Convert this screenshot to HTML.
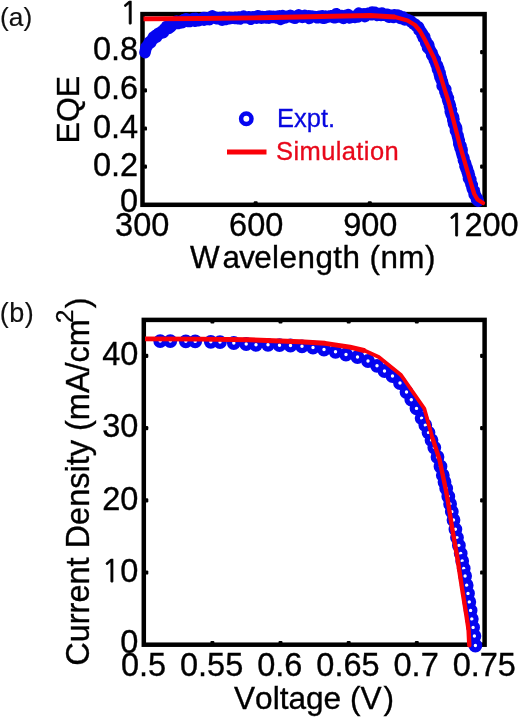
<!DOCTYPE html><html><head><meta charset="utf-8"><title>EQE and J-V</title><style>html,body{margin:0;padding:0;background:#fff}svg{display:block}text{font-family:"Liberation Sans",sans-serif;font-kerning:none;stroke:#000;stroke-width:.35px}.n{font-family:"NanumGothic","Liberation Sans",sans-serif;font-size:30.4px;stroke-width:.75px}.l{font-family:"Liberation Sans",sans-serif;font-size:32.5px;stroke-width:.35px}</style></head><body>
<svg width="520" height="718" viewBox="0 0 520 718">
<rect width="520" height="718" fill="#fff"/>
<rect x="142.5" y="14.1" width="342.1" height="190.70000000000002" fill="none" stroke="#000" stroke-width="4.5"/>
<rect x="253.7" y="201.20000000000002" width="4" height="3" rx="1" fill="#000"/>
<rect x="367.8" y="201.20000000000002" width="4" height="3" rx="1" fill="#000"/>
<rect x="144.0" y="164.6" width="3" height="4.2" rx="1.2" fill="#000"/>
<rect x="480.1" y="164.6" width="3" height="4.2" rx="1.2" fill="#000"/>
<rect x="144.0" y="126.4" width="3" height="4.2" rx="1.2" fill="#000"/>
<rect x="480.1" y="126.4" width="3" height="4.2" rx="1.2" fill="#000"/>
<rect x="144.0" y="88.3" width="3" height="4.2" rx="1.2" fill="#000"/>
<rect x="480.1" y="88.3" width="3" height="4.2" rx="1.2" fill="#000"/>
<rect x="144.0" y="50.1" width="3" height="4.2" rx="1.2" fill="#000"/>
<rect x="480.1" y="50.1" width="3" height="4.2" rx="1.2" fill="#000"/>
<polyline points="145.0,52.6 145.4,50.6 145.7,49.4 146.1,46.9 146.5,47.5 146.8,46.6 147.3,46.0 147.8,44.8 148.3,44.6 148.8,43.4 149.3,41.9 149.8,43.2 150.3,42.4 150.9,42.5 151.5,40.4 152.2,39.3 152.8,38.6 153.4,37.0 154.1,38.6 154.7,36.2 155.4,35.5 156.1,35.9 156.8,36.8 157.5,35.1 158.2,33.4 159.0,33.2 159.7,33.9 160.5,32.7 161.2,31.6 162.0,31.6 162.7,32.0 163.4,32.6 164.2,29.2 164.9,29.2 165.7,28.6 166.4,26.6 167.2,27.5 168.0,27.0 168.8,28.5 169.6,26.9 170.3,25.1 171.1,26.7 171.9,25.3 172.7,23.6 173.4,24.2 174.2,23.7 175.0,23.0 175.8,23.5 176.7,21.1 177.5,22.6 178.3,23.4 179.2,23.0 180.0,22.9 180.9,22.6 181.7,22.7 182.6,20.2 183.5,21.8 184.4,19.2 185.3,20.1 186.2,18.8 187.0,21.3 187.9,21.4 188.8,19.8 189.7,21.5 190.6,19.2 191.5,19.9 192.4,19.8 193.3,18.6 194.2,19.9 195.1,21.2 196.0,18.4 196.9,20.1 197.8,19.1 198.7,20.7 199.6,19.5 200.5,19.6 201.4,19.5 202.3,19.1 203.2,17.6 204.1,20.1 205.0,17.6 205.9,19.0 206.8,19.3 207.7,17.9 208.6,18.8 209.5,19.7 210.4,18.6 211.3,17.7 212.2,15.9 213.1,17.6 214.0,17.9 214.9,17.9 215.8,17.5 216.7,18.7 217.6,17.8 218.5,18.2 219.4,18.9 220.3,17.5 221.2,18.0 222.1,20.2 223.0,19.0 223.9,17.0 224.8,18.1 225.7,18.6 226.6,19.2 227.5,18.2 228.4,17.6 229.3,17.4 230.2,18.6 231.1,18.3 232.0,17.5 232.9,17.8 233.8,17.5 234.7,18.5 235.6,17.2 236.5,18.3 237.4,18.6 238.2,18.2 239.1,17.0 240.0,18.9 240.9,17.1 241.8,18.1 242.7,17.0 243.6,16.1 244.5,17.8 245.4,17.8 246.3,17.5 247.2,17.8 248.1,16.9 249.0,16.8 249.9,17.3 250.8,19.2 251.7,18.2 252.6,16.9 253.5,17.9 254.4,16.9 255.3,16.9 256.2,18.1 257.1,16.8 258.0,15.7 258.9,16.4 259.8,17.3 260.7,17.3 261.6,18.3 262.5,16.5 263.4,17.8 264.3,17.5 265.2,17.0 266.1,17.9 267.0,17.6 267.9,16.3 268.8,18.1 269.7,16.0 270.6,17.1 271.5,17.1 272.4,17.4 273.3,16.4 274.2,17.0 275.1,16.9 276.0,17.9 276.9,16.3 277.8,17.1 278.7,16.7 279.6,15.8 280.5,19.4 281.4,16.9 282.3,15.6 283.2,18.2 284.1,16.0 285.0,17.2 285.9,17.7 286.8,16.3 287.7,16.5 288.6,16.4 289.5,16.7 290.4,15.4 291.3,15.7 292.2,16.7 293.1,17.7 294.0,17.4 294.9,18.3 295.8,17.4 296.7,16.3 297.6,16.7 298.5,14.9 299.4,15.9 300.3,15.8 301.2,17.0 302.1,17.3 303.0,16.2 303.9,16.2 304.8,15.3 305.7,16.6 306.6,16.9 307.5,17.0 308.4,15.9 309.3,18.4 310.2,17.7 311.1,16.5 312.0,16.1 312.9,16.3 313.8,16.7 314.7,16.5 315.6,17.0 316.5,17.2 317.4,17.8 318.3,17.6 319.2,16.4 320.1,16.8 321.0,16.1 321.9,15.9 322.8,18.1 323.7,16.0 324.6,18.2 325.5,16.0 326.4,16.6 327.3,17.3 328.2,16.3 329.1,16.6 330.0,16.0 330.9,15.8 331.8,16.0 332.7,15.6 333.6,17.6 334.5,16.0 335.4,17.7 336.3,13.7 337.2,16.1 338.1,16.5 339.0,15.7 339.9,17.0 340.8,16.5 341.7,15.7 342.6,16.3 343.5,18.4 344.4,16.1 345.3,16.1 346.2,15.4 347.1,15.9 348.0,14.6 348.9,15.6 349.8,17.9 350.7,16.7 351.6,16.3 352.5,16.7 353.4,17.3 354.3,16.2 355.2,17.4 356.1,16.5 357.0,15.6 357.9,16.9 358.8,13.1 359.7,14.7 360.6,15.4 361.5,14.2 362.4,14.8 363.3,14.1 364.1,13.8 365.0,16.6 365.9,14.5 366.7,13.7 367.6,14.7 368.5,13.2 369.4,14.2 370.3,13.6 371.2,14.8 372.1,12.0 373.0,13.9 373.9,13.3 374.8,12.3 375.6,14.5 376.5,13.0 377.4,15.4 378.3,14.7 379.1,15.0 380.0,14.7 380.9,15.5 381.8,13.0 382.7,14.8 383.6,14.3 384.5,15.1 385.4,14.9 386.3,15.5 387.2,14.3 388.1,16.7 389.0,17.2 389.9,15.0 390.8,15.3 391.7,15.8 392.6,16.8 393.5,17.5 394.3,14.9 395.2,15.6 396.1,15.3 397.0,15.5 397.9,15.1 398.8,17.1 399.7,15.9 400.5,18.5 401.4,18.3 402.2,16.8 403.1,17.1 403.9,17.8 404.8,19.9 405.2,18.9 405.7,19.2 407.3,19.5 408.3,19.9 408.6,20.3 410.6,20.8 410.6,21.3 411.5,21.7 411.5,22.2 412.7,22.7 413.5,23.1 413.1,23.6 415.2,24.1 414.7,24.8 416.2,25.5 416.0,26.1 418.5,26.8 418.1,27.5 419.0,28.2 419.6,28.9 419.0,29.6 419.0,30.3 420.4,31.1 421.5,31.9 421.5,32.7 422.4,33.5 422.9,34.3 422.0,35.1 423.4,35.8 424.7,36.6 423.8,37.4 423.5,38.2 424.9,39.0 425.1,39.8 426.0,40.6 425.7,41.4 426.6,42.2 425.7,43.1 427.8,43.9 428.6,44.7 428.8,45.5 427.7,46.3 429.0,47.1 427.6,47.9 429.8,48.7 430.0,49.6 429.9,50.4 431.0,51.2 431.3,52.0 432.1,52.8 432.0,53.6 432.5,54.4 431.7,55.2 432.5,56.1 433.2,56.9 434.0,57.7 434.2,58.5 435.3,59.4 434.3,60.2 435.0,61.1 435.6,61.9 435.6,62.8 436.3,63.6 436.1,64.4 437.5,65.3 436.8,66.1 437.9,67.0 437.6,67.8 438.8,68.7 437.5,69.5 438.9,70.3 438.7,71.2 439.3,72.0 440.2,72.9 439.2,73.7 439.4,74.6 439.9,75.4 440.8,76.3 439.9,77.1 441.3,78.0 440.8,78.9 441.1,79.7 441.8,80.6 442.4,81.5 442.2,82.3 442.5,83.2 443.0,84.0 443.1,84.9 442.1,85.8 443.6,86.6 444.1,87.5 444.9,88.3 445.7,89.2 445.2,90.1 445.2,90.9 444.9,91.8 445.7,92.6 446.4,93.5 446.9,94.3 446.0,95.2 446.9,96.1 447.5,96.9 448.3,97.8 447.7,98.6 447.6,99.5 447.8,100.3 448.2,101.2 448.3,102.1 449.4,102.9 449.8,103.8 449.8,104.7 450.3,105.5 449.6,106.4 450.3,107.3 450.1,108.1 450.6,109.0 451.4,109.9 451.0,110.8 450.2,111.6 451.3,112.5 451.3,113.4 451.1,114.2 451.7,115.1 452.9,116.0 453.5,116.9 452.5,117.7 453.6,118.6 453.9,119.5 452.8,120.3 453.7,121.2 453.9,122.1 454.2,123.0 453.5,123.8 454.4,124.7 455.4,125.6 455.7,126.4 456.3,127.3 455.3,128.2 456.7,129.1 456.3,129.9 455.4,130.8 456.8,131.7 456.4,132.5 457.1,133.4 457.0,134.3 458.0,135.2 457.7,136.0 457.6,136.9 458.5,137.8 458.3,138.6 458.2,139.5 459.3,140.4 458.7,141.3 458.8,142.1 459.0,143.0 458.8,143.9 459.5,144.7 461.0,145.6 459.7,146.5 460.5,147.4 460.1,148.2 460.7,149.1 462.1,149.9 462.0,150.8 461.4,151.7 462.0,152.5 461.8,153.4 462.1,154.3 462.3,155.1 462.5,156.0 463.4,156.9 463.8,157.7 464.0,158.6 463.9,159.4 463.5,160.3 464.5,161.2 464.3,162.0 465.5,162.9 465.6,163.8 465.9,164.6 465.6,165.5 465.0,166.4 466.8,167.2 467.2,168.1 466.0,169.0 467.1,169.8 467.9,170.7 467.0,171.5 468.7,172.4 467.8,173.3 467.7,174.1 469.3,175.0 469.0,175.9 468.7,176.7 469.8,177.6 468.5,178.5 470.8,179.3 469.6,180.2 470.5,181.0 470.4,181.9 471.1,182.7 471.7,183.6 471.0,184.5 472.2,185.3 471.9,186.2 471.9,187.0 472.5,187.9 472.3,188.7 472.7,189.6 474.0,190.4 473.7,191.3 474.6,192.1 474.5,193.0 474.1,193.8 474.1,194.6 475.1,195.4 476.0,196.2 476.3,197.0 476.2,197.8 477.6,198.6 476.5,199.5 477.2,200.3 478.4,201.1" fill="none" stroke="#0505f0" stroke-width="11.6" stroke-linecap="round" stroke-linejoin="round"/>
<polyline points="395,17 407.5,20.5 415,25 420,31 425,40 433.8,57.5 440.3,75 444.2,88 449,103 460.2,146.4 470,180 474.3,194 477.5,199.5 483,203" fill="none" stroke="#fa0008" stroke-width="4.3" stroke-linejoin="round" stroke-linecap="round"/>
<polyline points="143.5,18.9 200,18.5 260,17.8 320,16.5 370,15.5 395,17" fill="none" stroke="#fa0008" stroke-width="4.9" stroke-linejoin="round"/>
<text x="120.1" y="23.7" class="n">1</text>
<text x="138.1" y="212.39999999999998" font-size="32.5" text-anchor="end" fill="#000">0</text>
<text x="138.1" y="175.89999999999998" font-size="32.5" text-anchor="end" fill="#000">0.2</text>
<text x="138.1" y="137.6" font-size="32.5" text-anchor="end" fill="#000">0.4</text>
<text x="138.1" y="98.7" font-size="32.5" text-anchor="end" fill="#000">0.6</text>
<text x="138.1" y="60.300000000000004" font-size="32.5" text-anchor="end" fill="#000">0.8</text>
<text x="142.2" y="235.9" font-size="32.5" text-anchor="middle" fill="#000">300</text>
<text x="256.2333333333333" y="235.9" font-size="32.5" text-anchor="middle" fill="#000">600</text>
<text x="370.26666666666665" y="235.9" font-size="32.5" text-anchor="middle" fill="#000">900</text>
<text y="235.9"><tspan class="n" x="446.5">1</tspan><tspan class="l" x="464.4">200</tspan></text>
<text x="190.1 222.5 239.3 254.3 272.1 279.6 297.5 315.4 333.3 342.4 360.3 369.5 380.4 398.3 424.9" y="267.9" font-size="31.4">Wavelength (nm)</text>
<text transform="translate(79.3,109.6) rotate(-90)" font-size="32" text-anchor="middle">EQE</text>
<circle cx="246.3" cy="118.8" r="5.2" fill="#fff" stroke="#0505f0" stroke-width="4.5"/>
<text x="277" y="126.9" font-size="25.5" text-anchor="start" fill="#0808e0" style="stroke:#0808e0;stroke-width:.3px">Expt.</text>
<rect x="227" y="149.5" width="39.5" height="5" fill="#fa0008"/>
<text x="276" y="159.5" font-size="25.5" text-anchor="start" fill="#e8081a" textLength="122.7" lengthAdjust="spacing" style="stroke:#e8081a;stroke-width:.3px">Simulation</text>
<text x="0" y="25.7" font-size="26.3" text-anchor="start" fill="#111" style="stroke-width:.15px">(a)</text>
<text x="-0.2" y="322.1" font-size="27" text-anchor="start" fill="#111" textLength="34" style="stroke-width:.15px">(b)</text>
<rect x="143.8" y="319.9" width="340.8" height="324.80000000000007" fill="none" stroke="#000" stroke-width="4.5"/>
<rect x="210.4" y="641.0" width="4" height="3" rx="1" fill="#000"/>
<rect x="210.4" y="320.59999999999997" width="4" height="3" rx="1" fill="#000"/>
<rect x="278.5" y="641.0" width="4" height="3" rx="1" fill="#000"/>
<rect x="278.5" y="320.59999999999997" width="4" height="3" rx="1" fill="#000"/>
<rect x="346.7" y="641.0" width="4" height="3" rx="1" fill="#000"/>
<rect x="346.7" y="320.59999999999997" width="4" height="3" rx="1" fill="#000"/>
<rect x="414.8" y="641.0" width="4" height="3" rx="1" fill="#000"/>
<rect x="414.8" y="320.59999999999997" width="4" height="3" rx="1" fill="#000"/>
<rect x="145.3" y="570.4" width="3" height="4.2" rx="1.2" fill="#000"/>
<rect x="480.1" y="570.4" width="3" height="4.2" rx="1.2" fill="#000"/>
<rect x="145.3" y="498.2" width="3" height="4.2" rx="1.2" fill="#000"/>
<rect x="480.1" y="498.2" width="3" height="4.2" rx="1.2" fill="#000"/>
<rect x="145.3" y="426.0" width="3" height="4.2" rx="1.2" fill="#000"/>
<rect x="480.1" y="426.0" width="3" height="4.2" rx="1.2" fill="#000"/>
<rect x="145.3" y="353.8" width="3" height="4.2" rx="1.2" fill="#000"/>
<rect x="480.1" y="353.8" width="3" height="4.2" rx="1.2" fill="#000"/>
<circle cx="160.2" cy="341.1" r="4.3" fill="#fff" stroke="#0505f0" stroke-width="5.2"/>
<circle cx="170.3" cy="341.1" r="4.3" fill="#fff" stroke="#0505f0" stroke-width="5.2"/>
<circle cx="185.8" cy="341.3" r="4.3" fill="#fff" stroke="#0505f0" stroke-width="5.2"/>
<circle cx="195.2" cy="341.4" r="4.3" fill="#fff" stroke="#0505f0" stroke-width="5.2"/>
<circle cx="210.8" cy="341.8" r="4.3" fill="#fff" stroke="#0505f0" stroke-width="5.2"/>
<circle cx="220.0" cy="342.1" r="4.3" fill="#fff" stroke="#0505f0" stroke-width="5.2"/>
<circle cx="233.8" cy="343.0" r="4.3" fill="#fff" stroke="#0505f0" stroke-width="5.2"/>
<circle cx="246.2" cy="344.0" r="4.3" fill="#fff" stroke="#0505f0" stroke-width="5.2"/>
<circle cx="256.0" cy="344.8" r="4.3" fill="#fff" stroke="#0505f0" stroke-width="5.2"/>
<circle cx="268.0" cy="344.8" r="4.3" fill="#fff" stroke="#0505f0" stroke-width="5.2"/>
<circle cx="279.5" cy="345.2" r="4.3" fill="#fff" stroke="#0505f0" stroke-width="5.2"/>
<circle cx="290.5" cy="345.5" r="4.3" fill="#fff" stroke="#0505f0" stroke-width="5.2"/>
<circle cx="302.0" cy="346.3" r="4.3" fill="#fff" stroke="#0505f0" stroke-width="5.2"/>
<circle cx="313.0" cy="347.5" r="4.3" fill="#fff" stroke="#0505f0" stroke-width="5.2"/>
<circle cx="324.0" cy="349.5" r="4.3" fill="#fff" stroke="#0505f0" stroke-width="5.2"/>
<circle cx="335.5" cy="351.8" r="4.3" fill="#fff" stroke="#0505f0" stroke-width="5.2"/>
<circle cx="346.0" cy="354.5" r="4.3" fill="#fff" stroke="#0505f0" stroke-width="5.2"/>
<circle cx="357.5" cy="357.0" r="4.3" fill="#fff" stroke="#0505f0" stroke-width="5.2"/>
<circle cx="368.0" cy="361.0" r="4.3" fill="#fff" stroke="#0505f0" stroke-width="5.2"/>
<circle cx="377.0" cy="365.8" r="4.3" fill="#fff" stroke="#0505f0" stroke-width="5.2"/>
<circle cx="384.5" cy="371.0" r="4.3" fill="#fff" stroke="#0505f0" stroke-width="5.2"/>
<circle cx="392.5" cy="376.0" r="4.3" fill="#fff" stroke="#0505f0" stroke-width="5.2"/>
<circle cx="400.0" cy="383.0" r="4.3" fill="#fff" stroke="#0505f0" stroke-width="5.2"/>
<circle cx="406.5" cy="392.0" r="4.3" fill="#fff" stroke="#0505f0" stroke-width="5.2"/>
<circle cx="411.3" cy="399.7" r="4.3" fill="#fff" stroke="#0505f0" stroke-width="5.2"/>
<circle cx="416.5" cy="408.4" r="4.3" fill="#fff" stroke="#0505f0" stroke-width="5.2"/>
<circle cx="421.6" cy="418.1" r="4.3" fill="#fff" stroke="#0505f0" stroke-width="5.2"/>
<circle cx="425.3" cy="425.1" r="4.3" fill="#fff" stroke="#0505f0" stroke-width="5.2"/>
<circle cx="428.5" cy="432.6" r="4.3" fill="#fff" stroke="#0505f0" stroke-width="5.2"/>
<circle cx="431.5" cy="440.1" r="4.3" fill="#fff" stroke="#0505f0" stroke-width="5.2"/>
<circle cx="434.3" cy="447.6" r="4.3" fill="#fff" stroke="#0505f0" stroke-width="5.2"/>
<circle cx="437.5" cy="457.0" r="4.3" fill="#fff" stroke="#0505f0" stroke-width="5.2"/>
<circle cx="440.5" cy="466.5" r="4.3" fill="#fff" stroke="#0505f0" stroke-width="5.2"/>
<circle cx="442.8" cy="475.2" r="4.3" fill="#fff" stroke="#0505f0" stroke-width="5.2"/>
<circle cx="444.5" cy="482.0" r="4.3" fill="#fff" stroke="#0505f0" stroke-width="5.2"/>
<circle cx="446.2" cy="488.5" r="4.3" fill="#fff" stroke="#0505f0" stroke-width="5.2"/>
<circle cx="448.3" cy="496.5" r="4.3" fill="#fff" stroke="#0505f0" stroke-width="5.2"/>
<circle cx="450.1" cy="504.0" r="4.3" fill="#fff" stroke="#0505f0" stroke-width="5.2"/>
<circle cx="451.8" cy="511.7" r="4.3" fill="#fff" stroke="#0505f0" stroke-width="5.2"/>
<circle cx="453.5" cy="520.0" r="4.3" fill="#fff" stroke="#0505f0" stroke-width="5.2"/>
<circle cx="455.4" cy="529.3" r="4.3" fill="#fff" stroke="#0505f0" stroke-width="5.2"/>
<circle cx="457.0" cy="537.6" r="4.3" fill="#fff" stroke="#0505f0" stroke-width="5.2"/>
<circle cx="458.9" cy="545.5" r="4.3" fill="#fff" stroke="#0505f0" stroke-width="5.2"/>
<circle cx="460.7" cy="553.5" r="4.3" fill="#fff" stroke="#0505f0" stroke-width="5.2"/>
<circle cx="462.2" cy="561.0" r="4.3" fill="#fff" stroke="#0505f0" stroke-width="5.2"/>
<circle cx="463.7" cy="568.5" r="4.3" fill="#fff" stroke="#0505f0" stroke-width="5.2"/>
<circle cx="465.1" cy="576.0" r="4.3" fill="#fff" stroke="#0505f0" stroke-width="5.2"/>
<circle cx="466.7" cy="585.2" r="4.3" fill="#fff" stroke="#0505f0" stroke-width="5.2"/>
<circle cx="468.0" cy="593.5" r="4.3" fill="#fff" stroke="#0505f0" stroke-width="5.2"/>
<circle cx="469.3" cy="602.0" r="4.3" fill="#fff" stroke="#0505f0" stroke-width="5.2"/>
<circle cx="470.6" cy="610.5" r="4.3" fill="#fff" stroke="#0505f0" stroke-width="5.2"/>
<circle cx="471.8" cy="619.0" r="4.3" fill="#fff" stroke="#0505f0" stroke-width="5.2"/>
<circle cx="473.1" cy="627.5" r="4.3" fill="#fff" stroke="#0505f0" stroke-width="5.2"/>
<circle cx="474.4" cy="636.0" r="4.3" fill="#fff" stroke="#0505f0" stroke-width="5.2"/>
<circle cx="475.4" cy="645.5" r="4.3" fill="#fff" stroke="#0505f0" stroke-width="5.2"/>
<polyline points="432.6,438.4 439.6,460 445.9,490 447.7,500 452.5,530 457.7,560 462.3,590 466.8,618 468.6,630 469.3,645.4" fill="none" stroke="#fa0008" stroke-width="4.4" stroke-linejoin="round" stroke-linecap="round"/>
<polyline points="365,350.75 378.75,357 401,375 424.3,408.5 432.6,438.4" fill="none" stroke="#fa0008" stroke-width="3.8" stroke-linejoin="round" stroke-linecap="round"/>
<polyline points="145,338.9 200,339.1 250,339.8 300,341.7 325,343.3 350,347.2 365,350.75" fill="none" stroke="#fa0008" stroke-width="4.9" stroke-linejoin="round"/>
<text y="581.8"><tspan class="n" x="101.8">1</tspan><tspan class="l" x="120.3">0</tspan></text>
<text x="138.4" y="652.8000000000001" font-size="32.5" text-anchor="end" fill="#000">0</text>
<text x="138.4" y="509.9" font-size="32.5" text-anchor="end" fill="#000">20</text>
<text x="138.4" y="436.59999999999997" font-size="32.5" text-anchor="end" fill="#000">30</text>
<text x="138.4" y="364.8" font-size="32.5" text-anchor="end" fill="#000">40</text>
<text x="143.5" y="676.4" font-size="32.5" text-anchor="middle" fill="#000">0.5</text>
<text x="211.66000000000008" y="676.4" font-size="32.5" text-anchor="middle" fill="#000">0.55</text>
<text x="279.82" y="676.4" font-size="32.5" text-anchor="middle" fill="#000">0.6</text>
<text x="347.9800000000001" y="676.4" font-size="32.5" text-anchor="middle" fill="#000">0.65</text>
<text x="416.13999999999993" y="676.4" font-size="32.5" text-anchor="middle" fill="#000">0.7</text>
<text x="484.3" y="676.4" font-size="32.5" text-anchor="middle" fill="#000">0.75</text>
<text x="234" y="709.1" font-size="31.6">Voltage (V<tspan x="383.4">)</tspan></text>
<text transform="translate(88.5,665.8) rotate(-90)" font-size="32.5" text-anchor="start">Current Density (mA/cm<tspan font-size="24" x="342.7" dy="-15.9">2</tspan><tspan x="357.5" dy="15.9">)</tspan></text>
</svg></body></html>
